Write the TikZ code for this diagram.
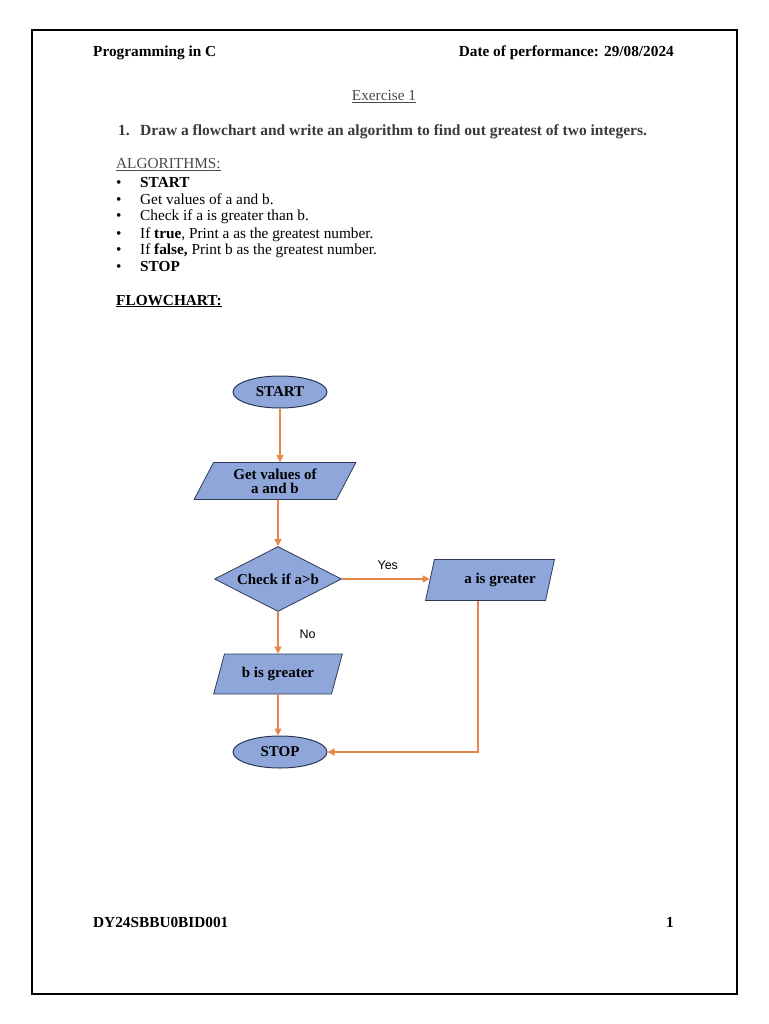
\documentclass[tikz,border=0pt]{standalone}
\usepackage{fontspec}
\setmainfont{Liberation Serif}
\newfontfamily\lsans{Liberation Sans}
\usetikzlibrary{shapes.geometric,arrows.meta}
\definecolor{boxfill}{HTML}{8EA6DA}
\definecolor{boxline}{HTML}{2E3A57}
\definecolor{arr}{HTML}{E8864A}
\definecolor{headgray}{HTML}{3A3A3A}
\definecolor{subgray}{HTML}{4A4A4A}
\begin{document}
\begin{tikzpicture}[x=1pt,y=-1pt,
  txt/.style={anchor=base west,inner sep=0,font=\fontsize{15.3}{18}\selectfont},
  txtr/.style={anchor=base east,inner sep=0,font=\fontsize{15.3}{18}\selectfont},
  txtc/.style={anchor=base,inner sep=0,font=\fontsize{15.3}{18}\selectfont},
  term/.style={ellipse,draw=boxline,fill=boxfill,line width=1,minimum width=94,minimum height=32,inner sep=0,font=\fontsize{15}{14}\selectfont\bfseries},
  io/.style={trapezium,trapezium left angle=62,trapezium right angle=118,trapezium stretches=true,draw=boxline,fill=boxfill,line width=0.8,inner sep=0,align=center,font=\fontsize{15}{14}\selectfont\bfseries},
  dec/.style={diamond,aspect=2,draw=boxline,fill=boxfill,line width=0.8,minimum width=127,minimum height=65,inner sep=0,font=\fontsize{15}{14}\selectfont\bfseries},
  flow/.style={draw=arr,line width=1.2,-{Triangle[length=7,width=7]}},
  lbl/.style={font=\lsans\fontsize{12.5}{14}\selectfont,inner sep=0}
]
\useasboundingbox (0,0) rectangle (768,1024);
\fill[white] (0,0) rectangle (768,1024);
\draw[line width=2] (32,30) rectangle (737,994);

% header
\node[txt,font=\fontsize{15.3}{18}\selectfont\bfseries] (h1) at (93,57) {Programming in C};
\node[txtr,font=\fontsize{15.3}{18}\selectfont\bfseries] (h2) at (674,57) {Date of performance: 29/08/2024};
\node[txtc,text=subgray] (ex) at (384,101) {\underline{Exercise 1}};
\node[txt,font=\fontsize{15.5}{18}\selectfont\bfseries,text=headgray] (q1n) at (118,136) {1.};
\node[txt,font=\fontsize{15.5}{18}\selectfont\bfseries,text=headgray] (q1) at (140,136) {Draw a flowchart and write an algorithm to find out greatest of two integers.};
\node[txt,text=subgray] (alg) at (116,169) {\underline{ALGORITHMS:}};
\node[txt] (b1) at (116,188) {\textbullet};
\node[txt,font=\fontsize{15.3}{18}\selectfont\bfseries] (t1) at (140,188) {START};
\node[txt] (b2) at (116,205) {\textbullet};
\node[txt] (t2) at (140,205) {Get values of a and b.};
\node[txt] (b3) at (116,221) {\textbullet};
\node[txt] (t3) at (140,221) {Check if a is greater than b.};
\node[txt] (b4) at (116,238) {\textbullet};
\node[txt] (t4) at (140,238) {If \textbf{true}, Print a as the greatest number.};
\node[txt] (b5) at (116,254) {\textbullet};
\node[txt] (t5) at (140,254) {If \textbf{false,} Print b as the greatest number.};
\node[txt] (b6) at (116,271) {\textbullet};
\node[txt,font=\fontsize{15.3}{18}\selectfont\bfseries] (t6) at (140,271) {STOP};
\node[txt,font=\fontsize{15.3}{18}\selectfont\bfseries] (fc) at (116,305) {\underline{FLOWCHART:}};

% footer
\node[txt,font=\fontsize{15.3}{18}\selectfont\bfseries] (f1) at (93,927) {DY24SBBU0BID001};
\node[txtr,font=\fontsize{15.3}{18}\selectfont\bfseries] (f2) at (674,927) {1};

% flowchart
\node[term] (start) at (280,392) {START};
\node[io,minimum width=162,minimum height=37] (get) at (275,481) {Get values of\\a and b};
\node[dec] (chk) at (278,579) {Check if a>b};
\node[io,minimum width=129,minimum height=41] (ag) at (490,580) {\hspace*{20pt}a is greater};
\node[io,minimum width=129,minimum height=40] (bg) at (278,674) {b is greater};
\node[term] (stop) at (280,752) {STOP};

\draw[flow] (start.south) -- (start.south |- get.north);
\draw[flow] (chk.north |- get.south) -- (chk.north);
\draw[flow] (chk.east) -- node[lbl,midway,above=9pt,xshift=2pt] {Yes} (chk.east -| ag.west);
\draw[flow] (chk.south) -- node[lbl,midway,right=21pt,yshift=-2pt] {No} (chk.south |- bg.north);
\draw[flow] (bg.south) -- (bg.south |- stop.north);
\draw[flow] ([xshift=-12]ag.south) |- (stop.east);
\end{tikzpicture}
\end{document}
